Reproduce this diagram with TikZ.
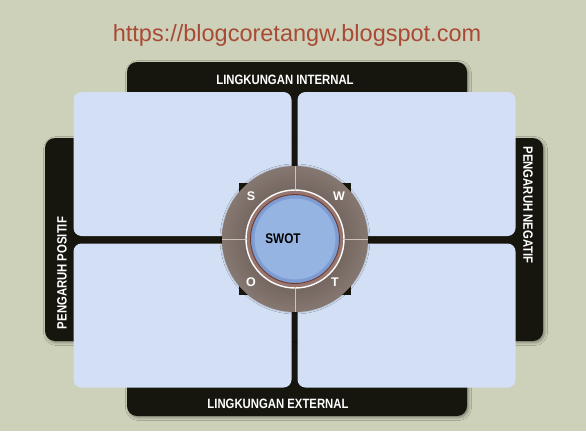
\documentclass[tikz,border=0pt]{standalone}
\usepackage{fontspec}
\setmainfont{Liberation Sans}
\newfontfamily\condfont[FakeStretch=0.84]{Liberation Sans}
\usetikzlibrary{positioning}
\usetikzlibrary{shadows.blur}
\definecolor{bgolive}{RGB}{205,209,185}
\definecolor{bandblack}{RGB}{22,22,14}
\definecolor{panelblue}{RGB}{211,223,245}
\definecolor{ringbrown}{RGB}{112,96,88}
\definecolor{ringdark}{RGB}{82,68,62}
\definecolor{rimpink}{RGB}{150,118,110}
\definecolor{rimred}{RGB}{110,58,48}
\definecolor{coreblue}{RGB}{150,180,226}
\definecolor{coreedge}{RGB}{125,156,210}
\definecolor{spoke}{RGB}{205,196,188}
\definecolor{titlered}{RGB}{168,74,53}

\begin{document}
\begin{tikzpicture}[x=1pt, y=-1pt,
	band/.style={fill=bandblack, rounded corners=10pt, inner sep=0pt,
		blur shadow={shadow xshift=1.5pt, shadow yshift=-1.5pt, shadow blur radius=3pt, shadow opacity=40}},
	panel/.style={fill=panelblue, rounded corners=8pt, inner sep=0pt, minimum width=218pt, minimum height=144pt},
	bandlabel/.style={text=white, font=\condfont\bfseries\fontsize{13.5}{13.5}\selectfont, inner sep=0pt},
	letter/.style={text=white, font=\bfseries\fontsize{12.5}{12.5}\selectfont, inner sep=0pt}]
	\useasboundingbox[fill=bgolive] (0,0) rectangle (586,431);
	
	% Title
	\node[text=titlered, font=\fontsize{23.5}{23.5}\selectfont] (url) at (297,35) {https://blogcoretangw.blogspot.com};
	
	% Bands
	\node[band, minimum width=340pt, minimum height=354pt] (vband) at (297,239) {};
	\node[band, minimum width=498pt, minimum height=203pt] (hband) at (294,239.5) {};
	
	% Panels
	\node[panel] (tl) at (182.5,164) {};
	\node[panel] (tr) at (406.5,164) {};
	\node[panel] (bl) at (182.5,315.5) {};
	\node[panel] (br) at (406.5,315.5) {};
	
	% Labels
	\node[bandlabel] (internal) at (285,80) {LINGKUNGAN INTERNAL};
	\node[bandlabel] (external) at (278,404) {LINGKUNGAN EXTERNAL};
	\node[bandlabel, rotate=90] (positif) at (62,273) {PENGARUH POSITIF};
	\node[bandlabel, rotate=-90] (negatif) at (528,205) {PENGARUH NEGATIF};
	
	% Circle
	\node[fill=bandblack, minimum size=112pt, inner sep=0pt] (corners) at (295,239) {};
	\node[circle, minimum size=146pt, inner sep=0pt, inner color=ringdark, outer color=ringbrown!85!white,
		blur shadow={shadow xshift=0pt, shadow yshift=0pt, shadow blur radius=2pt, shadow opacity=30}] (ring) at (corners.center) {};
	\node[circle, minimum size=98pt, inner sep=0pt, draw=white, line width=1.4pt, fill=rimpink] (rim) at (ring.center) {};
	\node[circle, minimum size=89pt, inner sep=0pt, draw=rimred, line width=0.9pt, fill=coreedge] (core) at (ring.center) {};
	\node[circle, minimum size=81pt, inner sep=0pt, fill=coreblue] (swot) at (ring.center) {};
	\node[font=\condfont\bfseries\fontsize{14}{14}\selectfont, inner sep=0pt] (swottext) at (283,239) {SWOT};
	
	% Spokes
	\draw[spoke, line width=1pt] (ring.north) -- (rim.north);
	\draw[spoke, line width=1pt] (ring.south) -- (rim.south);
	\draw[spoke, line width=1pt] (ring.west) -- (rim.west);
	\draw[spoke, line width=1pt] (ring.east) -- (rim.east);
	
	% Letters
	\node[letter] (s) at (251,196) {S};
	\node[letter] (w) at (339,196) {W};
	\node[letter] (o) at (251,282) {O};
	\node[letter] (t) at (335,282) {T};
\end{tikzpicture}
\end{document}
